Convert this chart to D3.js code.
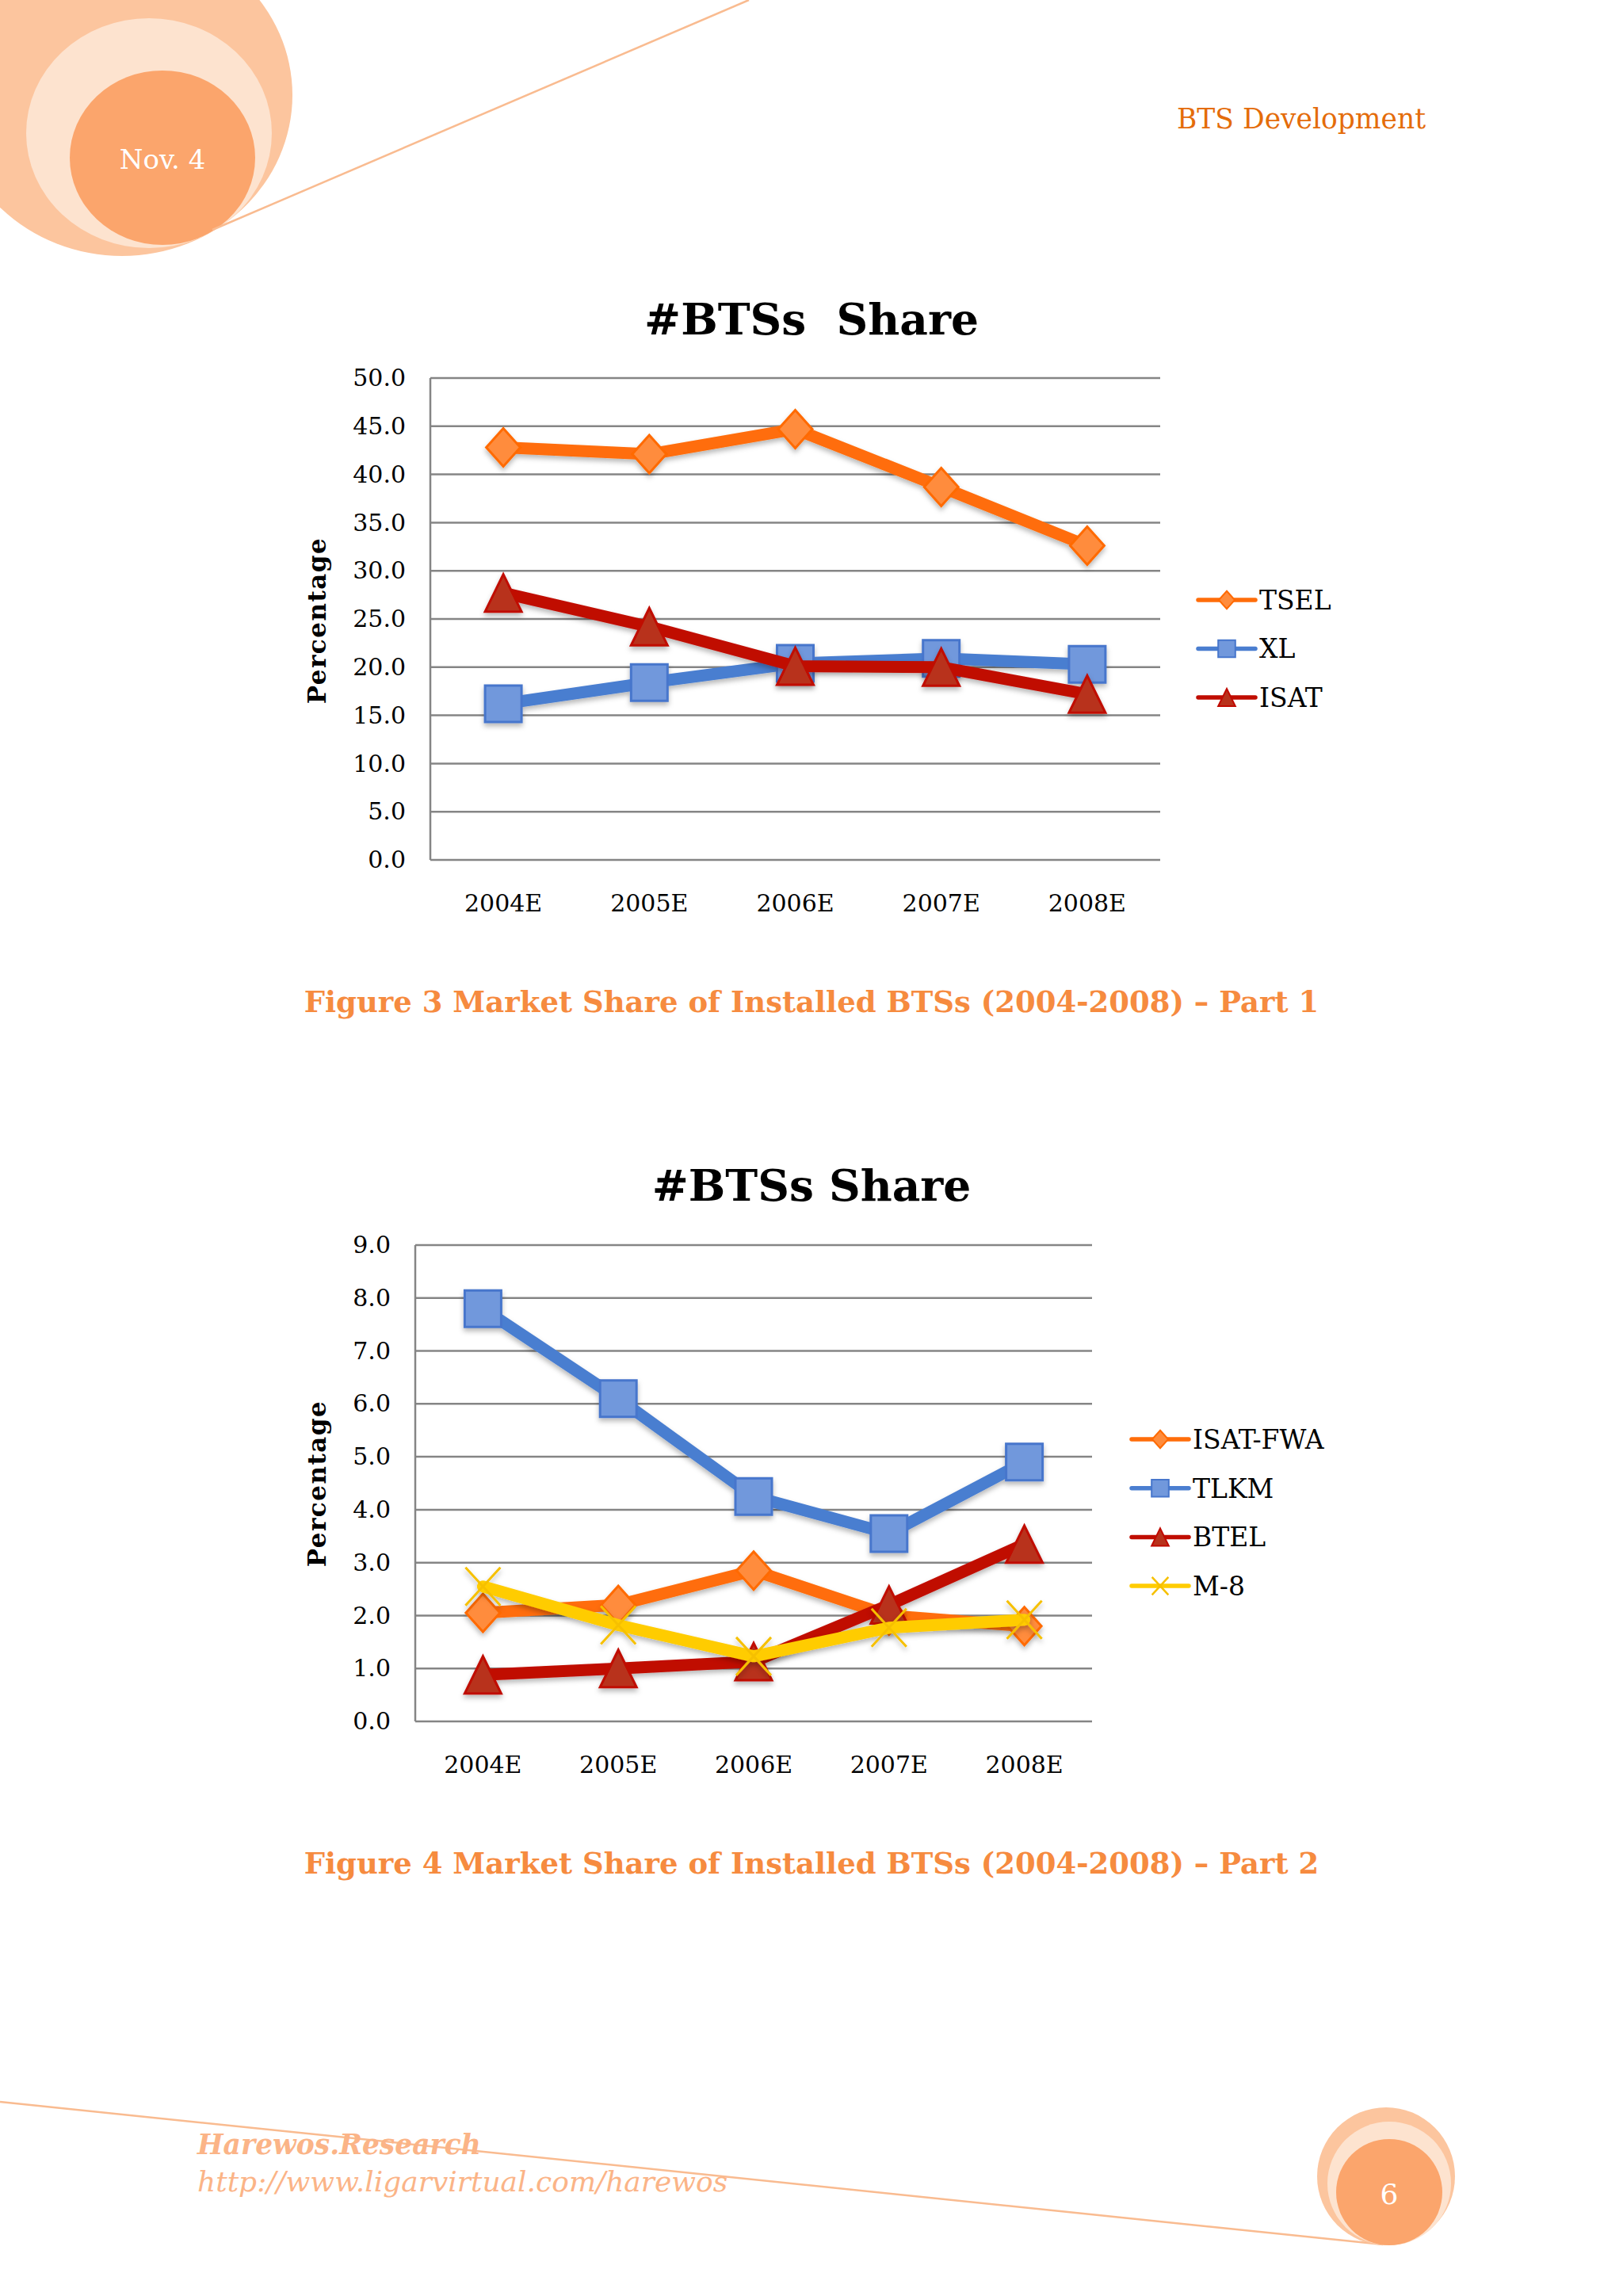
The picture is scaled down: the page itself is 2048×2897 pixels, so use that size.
<!DOCTYPE html>
<html>
<head>
<meta charset="utf-8">
<script src="https://cdn.jsdelivr.net/npm/d3@7"></script>
<style>
  html, body { margin: 0; padding: 0; background: #fff; }
  svg { display: block; }
  text { font-family: "DejaVu Serif", serif; }
</style>
</head>
<body>
<svg id="page" width="2048" height="2897"></svg>
<script>
// ---------------- DATA ----------------
const categories = ["2004E", "2005E", "2006E", "2007E", "2008E"];

// Figure 3
const chart1Title = "#BTSs  Share";
const chart1Series = ["TSEL", "XL", "ISAT"];
const tselValues = [42.8, 42.1, 44.7, 38.7, 32.6];
const xlValues   = [16.2, 18.4, 20.4, 20.9, 20.3];
const isatValues = [27.7, 24.2, 20.1, 20.0, 17.2];
const chart1Ticks = [0, 5, 10, 15, 20, 25, 30, 35, 40, 45, 50];

// Figure 4
const chart2Title = "#BTSs Share";
const chart2Series = ["ISAT-FWA", "TLKM", "BTEL", "M-8"];
const isatFwaValues = [2.05, 2.2, 2.85, 2.0, 1.8];
const tlkmValues    = [7.8, 6.1, 4.25, 3.55, 4.9];
const btelValues    = [0.88, 1.0, 1.13, 2.2, 3.35];
const m8Values      = [2.55, 1.82, 1.23, 1.77, 1.92];
const chart2Ticks = [0, 1, 2, 3, 4, 5, 6, 7, 8, 9];

const yAxisTitle = "Percentage";
const caption1 = "Figure 3 Market Share of Installed BTSs (2004-2008) \u2013 Part 1";
const caption2 = "Figure 4 Market Share of Installed BTSs (2004-2008) \u2013 Part 2";
const headerText = "BTS Development";
const dateText = "Nov. 4";
const pageNumber = "6";
const footerName = "Harewos.Research";
const footerUrl = "http://www.ligarvirtual.com/harewos";

// ---------------- STYLES ----------------
const styles = {
  orange: { line: "#ff6d0a", fill: "#ff8c3c", stroke: "#ff6a00", shape: "diamond" },
  blue:   { line: "#4a7ed0", fill: "#7198dc", stroke: "#4776cc", shape: "square" },
  red:    { line: "#c00d00", fill: "#b8321c", stroke: "#c00a00", shape: "triangle" },
  yellow: { line: "#ffcc00", fill: "none",    stroke: "#f6c000", shape: "x" }
};

const svg = d3.select("#page");
svg.append("rect").attr("width", 2048).attr("height", 2897).attr("fill", "#fff");

const defs = svg.append("defs");
const f = defs.append("filter").attr("id", "shadow").attr("x", "-20%").attr("y", "-20%").attr("width", "140%").attr("height", "140%");
f.append("feDropShadow").attr("dx", 0).attr("dy", 4).attr("stdDeviation", 3)
  .attr("flood-color", "#000").attr("flood-opacity", 0.28);

// ---------------- PAGE DECORATION ----------------
const deco = svg.append("g");
deco.append("ellipse").attr("cx", 154).attr("cy", 120).attr("rx", 215).attr("ry", 203).attr("fill", "#fcc59e");
deco.append("ellipse").attr("cx", 188).attr("cy", 168).attr("rx", 155).attr("ry", 145).attr("fill", "#fde3cf");
deco.append("ellipse").attr("cx", 205).attr("cy", 199).attr("rx", 117).attr("ry", 110).attr("fill", "#fba56c");
deco.append("line").attr("x1", 268).attr("y1", 290).attr("x2", 945).attr("y2", 0)
  .attr("stroke", "#f9bb90").attr("stroke-width", 2.5);
deco.append("text").attr("x", 205).attr("y", 213).attr("text-anchor", "middle")
  .attr("font-size", 34).attr("fill", "#fff").text(dateText);

svg.append("text").attr("x", 1485).attr("y", 162).attr("font-size", 34.5)
  .attr("fill", "#e46c0a").text(headerText);

// footer
deco.append("line").attr("x1", 0).attr("y1", 2652).attr("x2", 1745).attr("y2", 2832)
  .attr("stroke", "#f9bb90").attr("stroke-width", 2.5);
deco.append("circle").attr("cx", 1749).attr("cy", 2746).attr("r", 87).attr("fill", "#fcc59e");
deco.append("circle").attr("cx", 1753).attr("cy", 2755).attr("r", 78).attr("fill", "#fde3cf");
deco.append("circle").attr("cx", 1753).attr("cy", 2766).attr("r", 67).attr("fill", "#fba56c");
deco.append("text").attr("x", 1753).attr("y", 2781).attr("text-anchor", "middle")
  .attr("font-size", 36).attr("fill", "#fff").text(pageNumber);

svg.append("text").attr("x", 249).attr("y", 2718).attr("font-size", 34.5)
  .attr("font-style", "italic").attr("font-weight", "bold").attr("fill", "#fbb487").text(footerName);
svg.append("text").attr("x", 249).attr("y", 2765).attr("font-size", 36)
  .attr("font-style", "italic").attr("fill", "#fbb487").text(footerUrl);

// ---------------- MARKERS ----------------
function markerPath(shape, w, h) {
  const p = d3.path();
  const hw = w / 2, hh = h / 2;
  if (shape === "diamond") {
    p.moveTo(0, -hh); p.lineTo(hw, 0); p.lineTo(0, hh); p.lineTo(-hw, 0); p.closePath();
  } else if (shape === "square") {
    p.rect(-hw, -hh, w, h);
  } else if (shape === "triangle") {
    p.moveTo(0, -hh); p.lineTo(hw, hh); p.lineTo(-hw, hh); p.closePath();
  } else if (shape === "x") {
    p.moveTo(-hw, -hh); p.lineTo(hw, hh); p.moveTo(hw, -hh); p.lineTo(-hw, hh);
  }
  return p.toString();
}
function markerSize(shape, big) {
  const s = big ? 1 : 0.47;
  if (shape === "diamond") return [43 * s, 48 * s];
  if (shape === "square") return [46 * s, 46 * s];
  if (shape === "triangle") return [46 * s, 47 * s];
  return [44 * s, 48 * s];
}
function drawMarker(g, st, big) {
  const [w, h] = markerSize(st.shape, big);
  const path = g.append("path").attr("d", markerPath(st.shape, w, h));
  if (st.shape === "x") {
    path.attr("fill", "none").attr("stroke", st.stroke).attr("stroke-width", big ? 3 : 2.5);
  } else {
    path.attr("fill", st.fill).attr("stroke", st.stroke).attr("stroke-width", big ? 3 : 2)
      .attr("stroke-linejoin", "miter");
  }
}

// ---------------- CHART ----------------
function drawChart(cfg) {
  const g = svg.append("g");
  const x = d3.scaleBand().domain(categories).range([cfg.left, cfg.right]);
  const y = d3.scaleLinear().domain(cfg.domain).range([cfg.bottom, cfg.top]);
  const cx = c => x(c) + x.bandwidth() / 2;

  // title
  g.append("text").attr("x", 1024).attr("y", cfg.titleY).attr("text-anchor", "middle")
    .attr("font-size", 55).attr("font-weight", "bold").attr("fill", "#000")
    .style("white-space", "pre").text(cfg.title);

  // gridlines
  g.append("g").selectAll("line").data(cfg.ticks).join("line")
    .attr("x1", cfg.left).attr("x2", cfg.right)
    .attr("y1", d => y(d)).attr("y2", d => y(d))
    .attr("stroke", "#858585").attr("stroke-width", 2.5);
  // vertical axis line
  g.append("line").attr("x1", cfg.left).attr("x2", cfg.left)
    .attr("y1", y(cfg.domain[1])).attr("y2", y(cfg.domain[0]))
    .attr("stroke", "#858585").attr("stroke-width", 2.5);

  // y axis
  const ya = g.append("g").attr("transform", `translate(${cfg.left},0)`)
    .call(d3.axisLeft(y).tickValues(cfg.ticks).tickFormat(d3.format(".1f")).tickSize(0).tickPadding(31));
  ya.select(".domain").remove();
  ya.selectAll("text").attr("font-size", 30).attr("font-family", "DejaVu Serif").attr("fill", "#000");

  // x axis
  const xa = g.append("g").attr("transform", `translate(0,${cfg.bottom})`)
    .call(d3.axisBottom(x).tickSize(0).tickPadding(44));
  xa.select(".domain").remove();
  xa.selectAll("text").attr("font-size", 30).attr("font-family", "DejaVu Serif").attr("fill", "#000");

  // y title
  g.append("text").attr("transform", `translate(411,${cfg.yTitleY}) rotate(-90)`)
    .attr("text-anchor", "middle").attr("font-size", 31).attr("font-weight", "bold")
    .attr("letter-spacing", 1.5).attr("fill", "#000").text(yAxisTitle);

  // series
  const line = d3.line().x((d, i) => cx(categories[i])).y(d => y(d));
  cfg.series.forEach(s => {
    const st = styles[s.style];
    const sg = g.append("g").attr("filter", "url(#shadow)");
    sg.append("path").datum(s.values).attr("d", line).attr("fill", "none")
      .attr("stroke", st.line).attr("stroke-width", 15)
      .attr("stroke-linejoin", "round").attr("stroke-linecap", "round");
    s.values.forEach((v, i) => {
      const mg = sg.append("g").attr("transform", `translate(${cx(categories[i])},${y(v)})`);
      drawMarker(mg, st, true);
    });
  });

  // legend
  const lg = g.append("g");
  cfg.series.forEach((s, i) => {
    const st = styles[s.style];
    const ly = cfg.legendY + i * cfg.legendStep;
    const row = lg.append("g").attr("transform", `translate(${cfg.legendX},${ly})`);
    row.append("line").attr("x1", 0).attr("x2", 72).attr("y1", 0).attr("y2", 0)
      .attr("stroke", st.line).attr("stroke-width", 5.5).attr("stroke-linecap", "round");
    const mg = row.append("g").attr("transform", "translate(36,0)");
    drawMarker(mg, st, false);
    row.append("text").attr("x", 77).attr("y", 0).attr("dy", "0.36em")
      .attr("font-size", 33).attr("fill", "#000").text(s.name);
  });

  // caption
  svg.append("text").attr("x", 1024).attr("y", cfg.captionY).attr("text-anchor", "middle")
    .attr("font-size", 37).attr("font-weight", "bold").attr("fill", "#f68b3f").text(cfg.caption);
}

drawChart({
  title: chart1Title, titleY: 422,
  left: 543, right: 1464, top: 477, bottom: 1085,
  domain: [0, 50], ticks: chart1Ticks, yTitleY: 783,
  series: [
    { name: chart1Series[0], values: tselValues, style: "orange" },
    { name: chart1Series[1], values: xlValues, style: "blue" },
    { name: chart1Series[2], values: isatValues, style: "red" }
  ],
  legendX: 1512, legendY: 757, legendStep: 61.5,
  caption: caption1, captionY: 1277
});

drawChart({
  title: chart2Title, titleY: 1515,
  left: 524, right: 1378, top: 1571, bottom: 2172,
  domain: [0, 9], ticks: chart2Ticks, yTitleY: 1872,
  series: [
    { name: chart2Series[0], values: isatFwaValues, style: "orange" },
    { name: chart2Series[1], values: tlkmValues, style: "blue" },
    { name: chart2Series[2], values: btelValues, style: "red" },
    { name: chart2Series[3], values: m8Values, style: "yellow" }
  ],
  legendX: 1428, legendY: 1816, legendStep: 61.7,
  caption: caption2, captionY: 2364
});
</script>
</body>
</html>
